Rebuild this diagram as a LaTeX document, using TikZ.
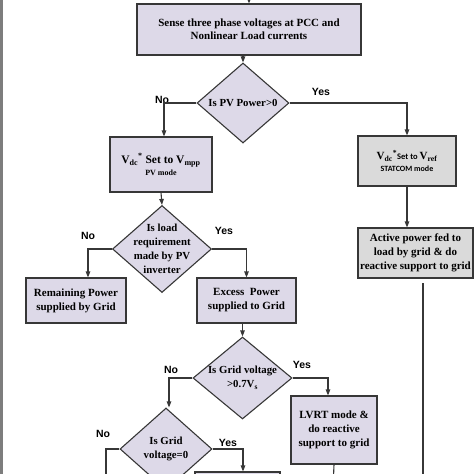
\documentclass[tikz,border=0pt]{standalone}
\usepackage{fontspec}
\setmainfont{Liberation Serif}
\newfontfamily\yesnofont{Liberation Sans}
\newfontfamily\calfont{Carlito}
\usepackage{tikz}
\usetikzlibrary{arrows.meta, shapes.geometric, positioning}
\definecolor{lav1}{RGB}{221,217,232}
\definecolor{gray1}{RGB}{218,218,218}
\definecolor{line1}{RGB}{55,55,55}
\definecolor{frame1}{RGB}{125,125,125}

\begin{document}
\begin{tikzpicture}[x=1pt, y=-1pt,
    process/.style={draw=line1, fill=lav1, line width=1.1pt, inner sep=1pt, align=center, font=\bfseries\fontsize{11}{14}\selectfont},
    statbox/.style={process, fill=gray1},
    decision/.style={draw=line1, fill=lav1, line width=1.1pt, shape=diamond, inner sep=-8pt, align=center, font=\bfseries\fontsize{10.8}{14}\selectfont},
    flowarrow/.style={-{Triangle[length=6pt, width=4.5pt]}, line width=1.1pt, color=line1},
    flowline/.style={line width=1.1pt, color=line1},
    yesno/.style={font=\yesnofont\bfseries\fontsize{10.5}{12}\selectfont, inner sep=0pt}
]
        \useasboundingbox (0,0) rectangle (474,474);
        \clip (0,0) rectangle (474,474);
        \fill[frame1] (0,0) rectangle (3,474);

        % boxes
        \node[process, minimum width=224pt, minimum height=51pt, name=sense] at(249,29.5) {Sense three phase voltages at PCC and\\[-1pt]Nonlinear Load currents};
        \node[process, minimum width=102pt, minimum height=55pt, name=pvmode] at(161,164.5) {\fontsize{11.5}{13}\selectfont V\textsubscript{dc}\textsuperscript{*} Set to V\textsubscript{mpp}\\[-2pt]\fontsize{8}{9}\selectfont PV mode};
        \node[statbox, minimum width=98pt, minimum height=50pt, name=statcom] at(407,161) {V\textsubscript{dc}\textsuperscript{*}{\calfont\fontsize{8.5}{9}\selectfont Set to }V\textsubscript{ref}\\[-2pt]{\calfont\fontsize{8}{9}\selectfont STATCOM mode}};
        \node[statbox, minimum width=115pt, minimum height=50pt, name=active] at(415.5,253) {Active power fed to\\load by grid \& do\\reactive support to grid};
        \node[process, minimum width=100pt, minimum height=45pt, name=remain] at(76,300.5) {Remaining Power\\supplied by Grid};
        \node[process, minimum width=99pt, minimum height=45pt, name=excess] at(246.5,300.5) {Excess\ \ Power\\supplied to Grid};
        \node[process, minimum width=86pt, minimum height=68pt, name=lvrt] at(334,430) {LVRT mode \&\\do reactive\\support to grid};
        \node[process, minimum width=85pt, minimum height=56pt, name=lowbox] at(237.5,500) {};

        % decisions
        \node[decision, minimum width=92pt, minimum height=80pt, name=pvq] at(243,103) {Is PV Power>0};
        \node[decision, minimum width=99pt, minimum height=87pt, name=loadq] at(162,249) {Is load\\requirement\\made by PV\\inverter};
        \node[decision, minimum width=99pt, minimum height=82pt, name=gridq] at(242.5,378) {Is Grid voltage\\>0.7V\textsubscript{s}};
        \node[decision, minimum width=92pt, minimum height=82pt, name=zeroq] at(166,449) {Is Grid\\voltage=0};

        % yes / no
        \node[yesno, name=no1] at(162,100) {No};
        \node[yesno, name=yes1] at(321,92) {Yes};
        \node[yesno, name=no2] at(88,236) {No};
        \node[yesno, name=yes2] at(224,231) {Yes};
        \node[yesno, name=no3] at(171,370) {No};
        \node[yesno, name=yes3] at(302,365) {Yes};
        \node[yesno, name=no4] at(103,434) {No};
        \node[yesno, name=yes4] at(228,443) {Yes};

        \coordinate (start) at (249,-10);
        \coordinate (act1) at (423,283);
        \coordinate (act2) at (423,490);
        \coordinate (lvrtend) at (333,490);
        \coordinate (zeroend) at (106,490);

        \draw[flowarrow] (start) -- (sense);
        \draw[flowarrow] (pvq.north |- sense.south) -- (pvq.north);
        \draw[flowarrow] (pvq.west) -| ([xshift=3pt]pvmode.north);
        \draw[flowarrow] (pvq.east) -| (statcom.north);
        \draw[flowarrow] (statcom.south) -- (statcom.south |- active.north);
        \draw[flowline] (act1) -- (act2);

        \draw[flowarrow] (pvmode.south) -- (loadq.north);
        \draw[flowarrow] (loadq.west) -| ([xshift=12pt]remain.north);
        \draw[flowarrow] (loadq.east) -| (excess.north);
        \draw[flowarrow] (gridq.north |- excess.south) -- (gridq.north);

        \draw[flowarrow] (gridq.west) -| ([xshift=3pt]zeroq.north);
        \draw[flowarrow] (gridq.east) -| ([xshift=-6pt]lvrt.north);
        \draw[flowline] (lvrt.south) -- (lvrtend);
        \draw[flowline] (zeroq.west) -| (zeroend);
        \draw[flowarrow] (zeroq.east) -| ([xshift=5.5pt]lowbox.north);
\end{tikzpicture}
\end{document}
